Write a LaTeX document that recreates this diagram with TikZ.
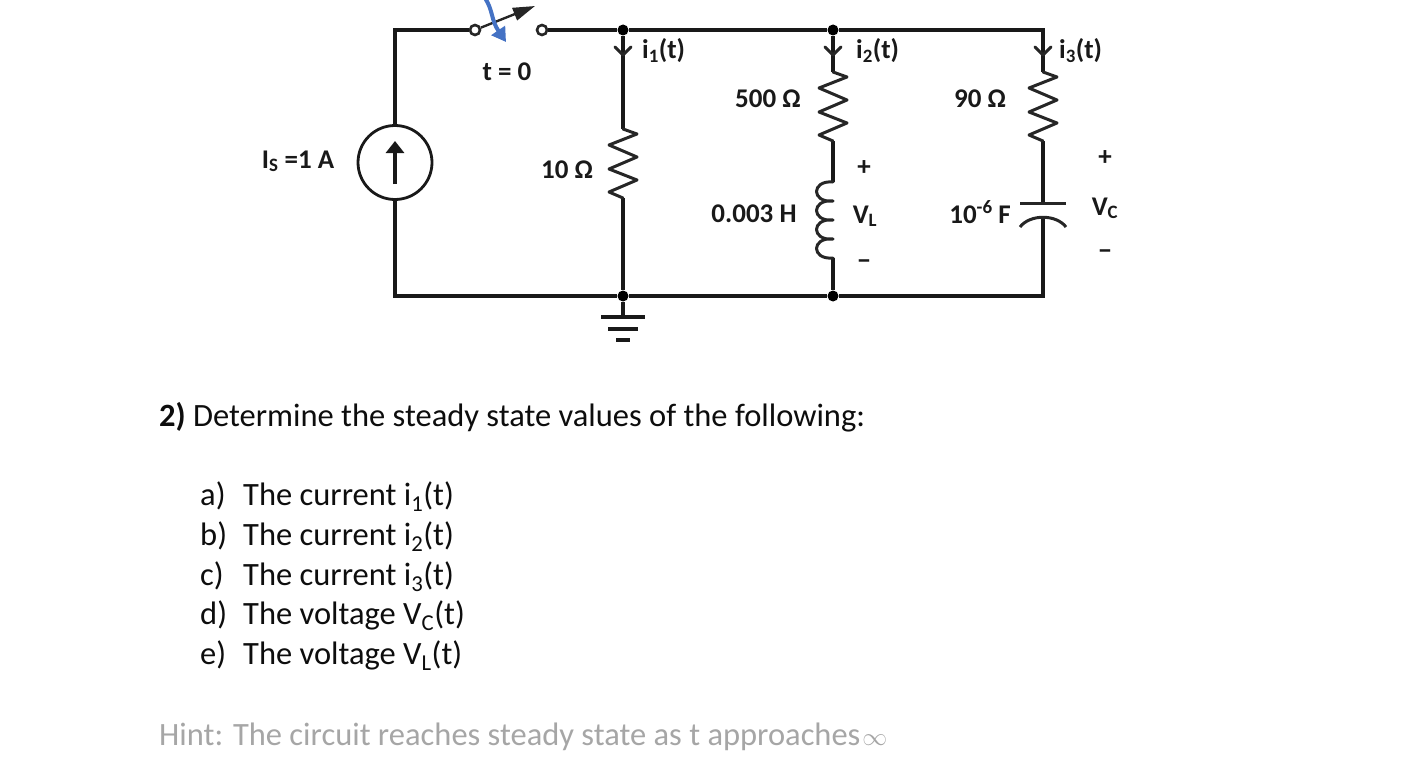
\documentclass[tikz,border=0pt]{standalone}
\usepackage{fontspec}
\setmainfont{Carlito}
\usepackage{tikz}
\usetikzlibrary{arrows.meta,positioning}
\definecolor{turnblue}{HTML}{4472C4}

\begin{document}
\begin{tikzpicture}[
        x=1pt, y=-1pt,
        wire/.style={
            line width=3.4pt,
            black!90,
            line join=miter
        },
        thin wire/.style={
            line width=3pt,
            black!85,
            line cap=round,
            line join=round
        },
        junction/.style={
            circle,
            fill=black,
            inner sep=0pt,
            minimum size=11pt
        },
        terminal/.style={
            circle,
            draw=black!85,
            line width=2.6pt,
            fill=white,
            inner sep=0pt,
            minimum size=10pt
        },
        source/.style={
            circle,
            draw=black!90,
            line width=2.8pt,
            fill=white,
            inner sep=0pt,
            minimum size=74pt
        },
        label/.style={
            font=\fontsize{27}{30}\selectfont\bfseries,
            text=black!90,
            inner sep=0pt
        },
        body/.style={
            font=\fontsize{32.5}{38}\selectfont,
            text=black!95,
            anchor=base west,
            inner sep=0pt
        },
        resistor/.pic={
            \draw[thin wire] (0,0) -- (14,5) -- (-14,16) -- (14,28) -- (-14,40) -- (14,51) -- (-14,63) -- (0,69);
        },
        barb/.pic={
            \draw[thin wire] (-8,-8) -- (0,0) -- (8,-8);
        },
        ground/.pic={
            \draw[wire] (-22,0) -- (22,0);
            \draw[wire] (-15,12) -- (15,12);
            \draw[wire] (-7,23) -- (7,23);
        }
    ]
    \useasboundingbox (0,0) rectangle (1414,784);
    % Corners and junctions
    \coordinate (top_right) at (1043,30);
    \coordinate (bot_right) at (1043,296);
    \node[junction] (n1) at (623,30) {};
    \node[junction] (n2) at (833,30) {};
    \node[junction] (g1) at (623,296) {};
    \node[junction] (g2) at (833,296) {};
    % Branch points
    \coordinate (r1_in) at (623,129);
    \coordinate (r1_out) at (623,198);
    \coordinate (r2_in) at (833,72);
    \coordinate (r2_out) at (833,141);
    \coordinate (r3_in) at (1043,72);
    \coordinate (r3_out) at (1043,141);
    \coordinate (l_in) at (833,182);
    \coordinate (l_out) at (833,258);
    \coordinate (c_in) at (1043,203);
    \coordinate (c_out) at (1043,217);
    % Source and switch
    \node[source] (is) at (395,162.5) {};
    \node[terminal] (sw_a) at (475,30) {};
    \node[terminal] (sw_b) at (542,30) {};
    \coordinate (sw_tip) at (535,6);
    \coordinate (is_tail) at (395,184);
    \coordinate (is_head) at (395,141);
    % Wires
    \draw[wire] (is) |- (sw_a);
    \draw[wire] (sw_b) -- (n1) -- (n2) -- (top_right) -- (r3_in);
    \draw[wire] (is) |- (g1);
    \draw[wire] (g1) -- (g2) -- (bot_right) -- (c_out);
    \draw[wire] (n1) -- (r1_in);
    \draw[wire] (r1_out) -- (g1);
    \draw[wire] (n2) -- (r2_in);
    \draw[wire] (r2_out) -- (l_in);
    \draw[wire] (l_out) -- (g2);
    \draw[wire] (r3_out) -- (c_in);
    % Resistors
    \pic at (r1_in) {resistor};
    \pic at (r2_in) {resistor};
    \pic at (r3_in) {resistor};
    % Inductor
    \draw[thin wire] (l_in)
        .. controls +(-22,-2) and +(-22,2) .. ++(0,19)
        .. controls +(-22,-2) and +(-22,2) .. ++(0,19)
        .. controls +(-22,-2) and +(-22,2) .. ++(0,19)
        .. controls +(-22,-2) and +(-22,2) .. (l_out);
    % Capacitor
    \draw[thin wire, line cap=butt] ([xshift=-23]c_in) -- ([xshift=23]c_in);
    \draw[thin wire, line cap=butt] ([xshift=-23,yshift=-10]c_out)
        .. controls +(10,-13) and +(-10,-13) .. ([xshift=23,yshift=-10]c_out);
    % Current markers
    \pic at (623,55) {barb};
    \pic at (833,55) {barb};
    \pic at (1043,55) {barb};
    % Source arrow
    \draw[line width=3.4pt, black!90, -{Triangle[length=12pt,width=18pt]}] (is_tail) -- (is_head);
    % Switch arm and blue arrow
    \draw[line width=2.4pt, black!85, -{Triangle[length=22pt,width=13pt]}] (sw_a) -- (sw_tip);
    \coordinate (turn_from) at (485,-2);
    \coordinate (turn_to) at (506,42);
    \draw[line width=4pt, turnblue, -{Triangle[length=14pt,width=16pt]}] (turn_from)
        .. controls (493,10) and (491,20) .. (turn_to);
    % Ground
    \coordinate (gnd) at (623,317);
    \draw[wire] (g1) -- (gnd);
    \pic at (gnd) {ground};
    % Circuit labels
    \node[label, anchor=base] (lb_is) at (298,168) {I\textsubscript{S} =1 A};
    \node[label, anchor=base] (lb_sw) at (507,81) {t = 0};
    \node[label, anchor=base west] (lb_i1) at (642,59) {i\textsubscript{1}(t)};
    \node[label, anchor=base west] (lb_i2) at (856,59) {i\textsubscript{2}(t)};
    \node[label, anchor=base west] (lb_i3) at (1059,59) {i\textsubscript{3}(t)};
    \node[label, anchor=base] (lb_r1) at (567,178) {10 Ω};
    \node[label, anchor=base] (lb_r2) at (768,107) {500 Ω};
    \node[label, anchor=base] (lb_r3) at (980,107) {90 Ω};
    \node[label, anchor=base] (lb_l) at (754,222) {0.003 H};
    \node[label, anchor=base] (lb_c) at (980,223) {10\raisebox{0.36em}{\fontsize{19}{19}\selectfont -6} F};
    \node[label, anchor=base] (lb_vl) at (865,223) {V\textsubscript{L}};
    \node[label, anchor=base] (lb_vc) at (1105,215) {V\textsubscript{C}};
    \node[label] (p_l) at (864,168) {+};
    \node[label] (m_l) at (864,265) {−};
    \node[label] (p_c) at (1105,158) {+};
    \node[label] (m_c) at (1105,255) {−};
    % Question text
    \node[body] (q_head) at (159,426) {\textbf{2)} Determine the steady state values of the following:};
    \node[body] (q_a) at (200,505) {a)};
    \node[body] (q_b) at (200,545) {b)};
    \node[body] (q_c) at (200,585) {c)};
    \node[body] (q_d) at (200,624) {d)};
    \node[body] (q_e) at (200,664) {e)};
    \node[body] (t_a) at (243,505) {The current i\textsubscript{1}(t)};
    \node[body] (t_b) at (243,545) {The current i\textsubscript{2}(t)};
    \node[body] (t_c) at (243,585) {The current i\textsubscript{3}(t)};
    \node[body] (t_d) at (243,624) {The voltage V\textsubscript{C}(t)};
    \node[body] (t_e) at (243,664) {The voltage V\textsubscript{L}(t)};
    \node[body, text=black!35] (hint) at (159,745) {Hint: The circuit reaches steady state as t approaches\hspace{2pt}$\infty$};
\end{tikzpicture}
\end{document}
